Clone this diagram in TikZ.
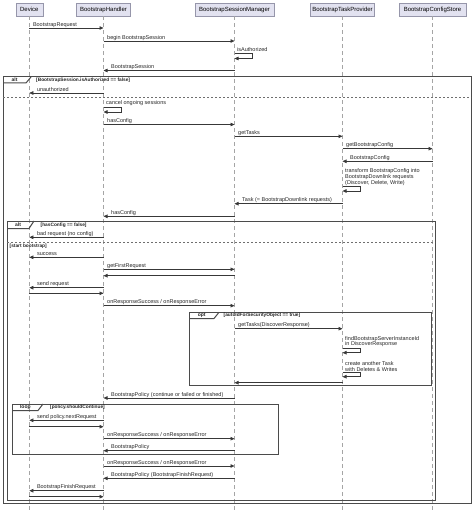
\documentclass[tikz,border=0pt]{standalone}
\usepackage{fontspec}
\setmainfont{Liberation Sans}
\usetikzlibrary{arrows.meta,calc}
\definecolor{partfill}{RGB}{226,226,240}
\definecolor{partdraw}{RGB}{150,150,170}
\definecolor{msgcol}{RGB}{56,56,56}
\definecolor{lifecol}{RGB}{165,165,165}
\definecolor{framecol}{RGB}{75,75,75}
\newcounter{labn}
\tikzset{
 part/.style={draw=partdraw, fill=partfill, font=\fontsize{6}{7}\selectfont, minimum height=13pt, inner xsep=1pt, inner ysep=0pt, line width=0.5pt},
 life/.style={draw=lifecol, dash pattern=on 4pt off 3pt, line width=0.5pt},
 msgline/.style={draw=msgcol, line width=0.6pt, -{Triangle[length=4pt,width=3.5pt]}},
 lbl/.style={font=\fontsize{5.5}{5.7}\selectfont, inner sep=0pt, text=black!85},
 frame/.style={draw=framecol, line width=1pt},
 sepline/.style={draw=framecol!80, dash pattern=on 2pt off 2pt, line width=0.6pt},
 guard/.style={font=\bfseries\fontsize{4.8}{6}\selectfont, inner sep=0pt, anchor=west, text=black!85},
 tabtext/.style={font=\bfseries\fontsize{5}{6}\selectfont, inner sep=0pt, text=black!85},
}
% right-going message
\newcommand\mR[4]{\draw[msgline] (#1 |- 0,#3) -- (#2 |- 0,#3);
 \stepcounter{labn}\node[lbl, anchor=base west] (lab\arabic{labn}) at ($(#1 |- 0,#3)+(3.5,-1.8)$) {#4};}
% left-going message
\newcommand\mL[4]{\draw[msgline] (#1 |- 0,#3) -- (#2 |- 0,#3);
 \stepcounter{labn}\node[lbl, anchor=base west] (lab\arabic{labn}) at ($(#2 |- 0,#3)+(7.5,-1.8)$) {#4};}
% self message: node, top y, bottom y, label
\newcommand\mS[4]{\draw[msgline] (#1 |- 0,#2) -- ++(17.5,0) |- (#1 |- 0,#3);
 \stepcounter{labn}\node[lbl, anchor=south west, align=left] (lab\arabic{labn}) at ($(#1 |- 0,#2)+(2.5,-1.2)$) {#4};}
% frame tab: name, left x, top y, tab right x, tab bottom y, text
\newcommand\ftab[6]{\draw[frame] (#2,#5) -- (#4,#5) -- ($(#4,#5)+(5,#3-#5)$);
 \node[tabtext] (#1) at ($(#2,#5)!0.5!(#4,#3)$) {#6};}
\begin{document}
\begin{tikzpicture}[x=1pt,y=-1pt]
\fill[white] (0,0) rectangle (474,513);
\useasboundingbox (0,0) rectangle (474,513);
% participants
\node[part, minimum width=27pt] (dev) at (29.3,9.5) {Device};
\node[part, minimum width=54pt] (hdl) at (103.5,9.5) {BootstrapHandler};
\node[part, minimum width=79pt] (sm) at (234.5,9.5) {BootstrapSessionManager};
\node[part, minimum width=64pt] (tp) at (342.5,9.5) {BootstrapTaskProvider};
\node[part, minimum width=67pt] (cs) at (432.5,9.5) {BootstrapConfigStore};
\foreach \p in {dev,hdl,sm,tp,cs}{\draw[life] (\p.south) -- (\p.south |- 0,511);}
% frames
\draw[frame] (3,77) rectangle (471,503);
\ftab{t1}{3}{77}{26}{83}{alt}
\node[guard] (g1) at (36,80) {[BootstrapSession.isAuthorized == false]};
\draw[sepline] (3,97) -- (471,97);
\draw[frame] (7,221) rectangle (435,500);
\ftab{t2}{7}{221}{29}{228.5}{alt}
\node[guard] (g2) at (40.5,225) {[hasConfig == false]};
\draw[sepline] (7,242) -- (435,242);
\node[guard] (g3) at (9.5,246) {[start bootstrap]};
\draw[frame] (189.5,312.3) rectangle (431.3,385.7);
\ftab{t3}{189.5}{312.3}{214}{318.5}{opt}
\node[guard] (g4) at (223.5,315.5) {[autoIdForSecurityObject == true]};
\draw[frame] (12.7,404) rectangle (278.7,454.3);
\ftab{t4}{12.7}{404}{38}{410.5}{loop}
\node[guard] (g5) at (50,407.5) {[policy.shouldContinue]};
% messages
\mR{dev}{hdl}{28}{BootstrapRequest}
\mR{hdl}{sm}{41}{begin BootstrapSession}
\mS{sm}{53}{58.5}{isAuthorized}
\mL{sm}{hdl}{70.5}{BootstrapSession}
\mL{hdl}{dev}{93}{unauthorized}
\mS{hdl}{107}{112}{cancel ongoing sessions}
\mR{hdl}{sm}{124.5}{hasConfig}
\mR{sm}{tp}{136.3}{getTasks}
\mR{tp}{cs}{148.7}{getBootstrapConfig}
\mL{cs}{tp}{161.3}{BootstrapConfig}
\mS{tp}{186.7}{191}{transform BootstrapConfig into\\BootstrapDownlink requests\\(Discover, Delete, Write)}
\mL{tp}{sm}{203.7}{Task (= BootstrapDownlink requests)}
\mL{sm}{hdl}{216.3}{hasConfig}
\mL{hdl}{dev}{237.3}{bad request (no config)}
\mL{hdl}{dev}{257.3}{success}
\mR{hdl}{sm}{269.3}{getFirstRequest}
\mL{sm}{hdl}{275.7}{}
\mL{hdl}{dev}{287.7}{send request}
\mR{dev}{hdl}{293.3}{}
\mR{hdl}{sm}{305.7}{onResponseSuccess / onResponseError}
\mR{sm}{tp}{328.7}{getTasks(DiscoverResponse)}
\mS{tp}{348.3}{352.7}{findBootstrapServerInstanceId\\in DiscoverResponse}
\mS{tp}{372.7}{376.7}{create another Task\\with Deletes \& Writes}
\mL{tp}{sm}{382.7}{}
\mL{sm}{hdl}{398}{BootstrapPolicy (continue or failed or finished)}
\mL{hdl}{dev}{420.3}{send policy.nextRequest}
\mR{dev}{hdl}{426.7}{}
\mR{hdl}{sm}{438.7}{onResponseSuccess / onResponseError}
\mL{sm}{hdl}{450.7}{BootstrapPolicy}
\mR{hdl}{sm}{466}{onResponseSuccess / onResponseError}
\mL{sm}{hdl}{478.3}{BootstrapPolicy (BootstrapFinishRequest)}
\mL{hdl}{dev}{490.7}{BootstrapFinishRequest}
\mR{dev}{hdl}{496.7}{}
\end{tikzpicture}
\end{document}
